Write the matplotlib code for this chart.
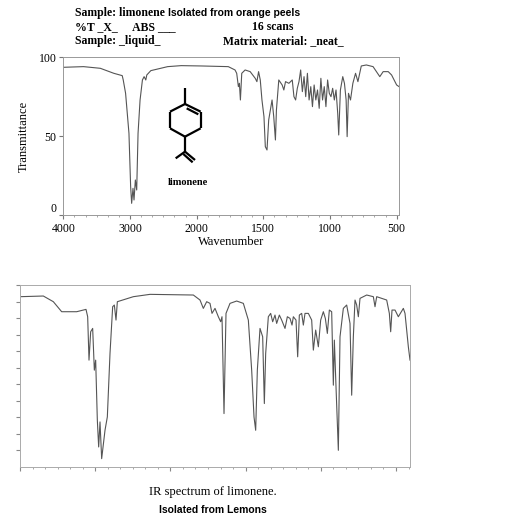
import numpy as np
import matplotlib.pyplot as plt
from matplotlib.ticker import MultipleLocator

# orange peel spectrum (x pixel -> chart position, y pixel -> %T)
orange_px = [190, 250, 300, 340, 365, 368, 375, 385, 390, 393, 397, 400, 404, 408, 412, 418, 425, 430, 435, 438, 450, 500, 540, 600, 680, 700, 705, 710, 713, 716, 720, 730, 745, 760, 765, 770, 775, 780, 786, 790, 795, 800, 810, 815, 820, 823, 830, 840, 845, 850, 860, 870, 875, 880, 885, 890, 895, 900, 905, 910, 915, 920, 925, 930, 935, 940, 945, 950, 955, 960, 965, 970, 975, 980, 985, 990, 995, 1000, 1005, 1008, 1013, 1020, 1025, 1030, 1033, 1037, 1043, 1050, 1058, 1065, 1075, 1090, 1110, 1120, 1130, 1140, 1155, 1165, 1180, 1190, 1198]
orange_y = [202, 200, 205, 220, 227, 240, 280, 400, 560, 610, 565, 600, 540, 570, 400, 300, 240, 230, 240, 225, 212, 200, 197, 198, 200, 210, 220, 260, 250, 300, 220, 210, 215, 235, 245, 215, 240, 300, 350, 440, 450, 360, 300, 350, 420, 330, 240, 255, 270, 245, 250, 240, 290, 300, 265, 245, 210, 275, 230, 290, 220, 300, 260, 320, 255, 300, 270, 325, 235, 300, 260, 320, 240, 280, 290, 265, 300, 270, 340, 405, 270, 230, 250, 300, 410, 280, 300, 250, 220, 245, 198, 195, 200, 215, 230, 215, 215, 225, 255, 262, 252]
orange_t = [(645 - y) / 4.73 for y in orange_y]

# lemon spectrum
lemon_px = [60, 130, 160, 185, 230, 258, 263, 267, 272, 278, 283, 287, 292, 296, 300, 305, 315, 322, 330, 338, 343, 348, 352, 400, 450, 580, 600, 610, 620, 630, 636, 645, 655, 662, 666, 672, 678, 690, 710, 730, 745, 755, 762, 767, 772, 780, 788, 793, 797, 805, 812, 818, 825, 830, 838, 845, 855, 862, 870, 876, 880, 888, 893, 898, 905, 910, 915, 925, 935, 940, 947, 955, 962, 970, 976, 982, 988, 995, 1000, 1003, 1008, 1015, 1020, 1030, 1040, 1050, 1055, 1060, 1065, 1070, 1075, 1080, 1100, 1120, 1125, 1130, 1160, 1168, 1172, 1176, 1185, 1195, 1210, 1215, 1225, 1230]
lemon_y = [80, 78, 95, 125, 125, 118, 140, 270, 185, 175, 300, 270, 450, 530, 455, 565, 480, 440, 250, 110, 105, 150, 95, 80, 73, 75, 90, 115, 95, 100, 130, 115, 140, 155, 140, 430, 130, 100, 93, 100, 150, 300, 440, 480, 300, 175, 200, 400, 250, 140, 130, 155, 135, 160, 135, 150, 175, 140, 145, 165, 140, 150, 260, 135, 130, 165, 130, 130, 150, 240, 180, 230, 150, 125, 145, 190, 120, 125, 345, 210, 350, 540, 200, 115, 105, 160, 375, 200, 90, 105, 140, 85, 75, 80, 110, 80, 90, 130, 185, 120, 120, 140, 115, 130, 230, 270]
lemon_t = [(540 - y) / 4.95 for y in lemon_y]

tick_wn = [4000, 3000, 2000, 1500, 1000, 500]


def split_pos(w):
    # 2000-4000 region is compressed 2x, as on the instrument chart
    w = np.asarray(w, dtype=float)
    return np.where(w >= 2000, (4000 - w) / 2, 1000 + (2000 - w))


# pixel readings -> chart units
orange_u = [(p - 190) * 2500 / 990 for p in orange_px]
lemon_u = [(p - 60) * 2500 / 1128 for p in lemon_px]

fig = plt.figure(figsize=(5.27, 5.26), dpi=100)
serif = 'Liberation Serif'
sans = 'Liberation Sans'

ax = fig.add_axes([63.3 / 527, 1 - 215 / 526, 336 / 527, 157.7 / 526])
ax.plot(orange_u, orange_t, color='#555555', lw=0.8)
ax.set_xlim(0, 2520)
ax.set_ylim(0, 100)
ax.set_yticks([0, 50, 100])
ax.set_xticks(split_pos(tick_wn))
ax.set_xticklabels([str(t) for t in tick_wn])
ax.xaxis.set_minor_locator(MultipleLocator(500 / 6))
ax.tick_params(labelsize=8.5, length=3, color='#777777')
ax.tick_params(axis='x', pad=2.5)
ax.tick_params(axis='y', pad=2)
ax.tick_params(which='minor', length=1.5, color='#999999')
for lab in ax.get_xticklabels() + ax.get_yticklabels():
    lab.set_fontfamily(serif)
ax.get_yticklabels()[0].set_va('bottom')
ax.set_xlabel('Wavenumber', fontfamily=serif, fontsize=9, labelpad=1)
ax.set_ylabel('Transmittance', fontfamily=serif, fontsize=9, labelpad=6)
for s in ax.spines.values():
    s.set_color('#999999')
    s.set_linewidth(0.7)


def to_ax(px, py):
    return ((px / 3 - 63.3) / 336, (215 - py / 3) / 157.7)


bonds = [((555, 265), (555, 312)), ((555, 312), (602, 335)), ((602, 335), (602, 385)),
         ((602, 385), (555, 410)), ((555, 410), (510, 385)), ((510, 385), (510, 335)),
         ((510, 335), (555, 312)), ((560, 325), (595, 343)),
         ((555, 410), (555, 455)), ((555, 455), (527, 475)), ((555, 455), (585, 480)),
         ((550, 462), (578, 487))]
for a, b in bonds:
    (x1, y1), (x2, y2) = to_ax(*a), to_ax(*b)
    ax.plot([x1, x2], [y1, y2], color='black', lw=1.6, transform=ax.transAxes,
            solid_capstyle='butt')
x0, y0 = to_ax(563, 548)
ax.text(x0, y0, 'limonene', transform=ax.transAxes, ha='center', va='center',
        fontfamily=serif, fontweight='bold', fontsize=7.5)

hs = 8.5
t1 = fig.text(75 / 527, 1 - 13 / 526, 'Sample: limonene', fontfamily=serif, fontweight='bold', fontsize=hs, va='center')
ax.annotate('Isolated from orange peels', xy=(1, 0.5), xycoords=t1, xytext=(2, 0),
            textcoords='offset points', fontfamily=sans, fontweight='bold',
            fontsize=7.5, va='center', annotation_clip=False)
fig.text(75 / 527, 1 - 27 / 526, '%T _X_     ABS ___', fontfamily=serif, fontweight='bold', fontsize=hs, va='center')
fig.text(252 / 527, 1 - 27 / 526, '16 scans', fontfamily=serif, fontweight='bold', fontsize=hs, va='center')
fig.text(75 / 527, 1 - 41 / 526, 'Sample: _liquid_', fontfamily=serif, fontweight='bold', fontsize=hs, va='center')
fig.text(223 / 527, 1 - 41 / 526, 'Matrix material: _neat_', fontfamily=serif, fontweight='bold', fontsize=hs, va='center')

ax2 = fig.add_axes([20 / 527, 1 - 467 / 526, 390 / 527, 182 / 526])
ax2.plot(lemon_u, lemon_t, color='#555555', lw=0.8)
ax2.set_xlim(0, 2593)
ax2.set_ylim(-10.1, 100)
ax2.set_xticks(split_pos(tick_wn))
ax2.xaxis.set_minor_locator(MultipleLocator(500 / 6))
ax2.set_yticks(np.arange(0, 101, 10))
ax2.set_xticklabels([])
ax2.set_yticklabels([])
ax2.tick_params(length=3, color='#888888')
ax2.tick_params(which='minor', length=1.5, color='#999999')
for s in ax2.spines.values():
    s.set_color('#aaaaaa')
    s.set_linewidth(0.7)

fig.text(213 / 527, 1 - 492 / 526, 'IR spectrum of limonene.', fontfamily=serif, fontsize=9, ha='center', va='center')
fig.text(213 / 527, 1 - 510 / 526, 'Isolated from Lemons', fontfamily=sans, fontweight='bold', fontsize=7.5, ha='center', va='center')

fig.savefig('out.png', dpi=100)
